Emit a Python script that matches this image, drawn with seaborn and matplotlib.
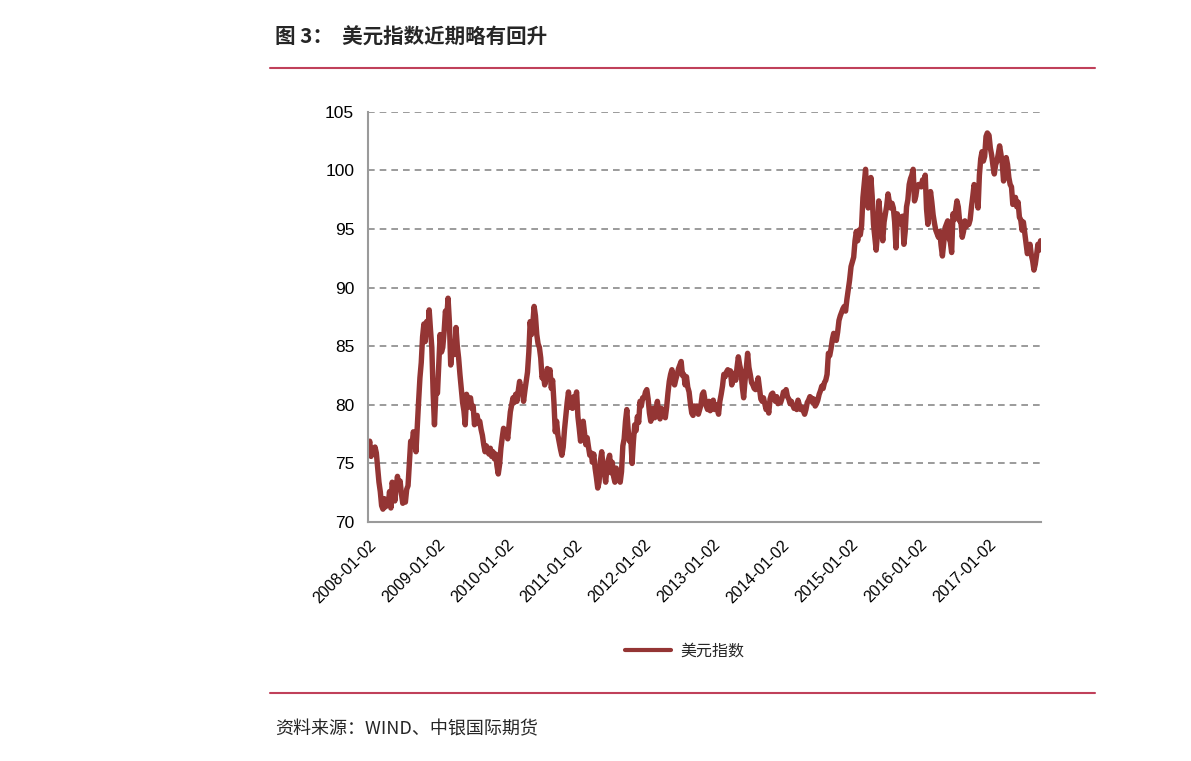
import pandas as pd
import seaborn as sns
import matplotlib.pyplot as plt
import matplotlib.dates as mdates
from matplotlib.lines import Line2D

# weekly readings of the US dollar index, one list per calendar year
dxy_2008 = [76.3, 76.9, 75.6, 76.2, 75.8, 76.4, 75.9, 74.6, 73.4, 72.6,
            71.4, 71.1, 72.0, 71.3, 71.8, 71.5, 72.6, 71.2, 73.4, 72.8,
            71.8, 72.9, 73.9, 72.8, 73.5, 72.4, 71.6, 72.2, 71.7, 72.8,
            73.1, 75.0, 76.9, 76.5, 77.7, 77.2, 76.0, 78.2, 80.3, 82.3,
            83.6, 85.8, 86.9, 85.4, 87.1, 86.2, 88.1, 86.4, 84.9, 81.0,
            78.3, 80.9]
dxy_2009 = [81.0, 83.5, 86.0, 84.5, 84.9, 86.2, 88.0, 87.4, 89.1, 87.1,
            83.4, 84.6, 85.4, 84.3, 86.6, 85.0, 84.0, 82.6, 81.4, 80.2,
            79.5, 78.3, 80.9, 79.8, 80.4, 80.6, 79.7, 79.9, 78.3, 79.0,
            79.1, 78.4, 78.6, 77.9, 77.4, 76.6, 76.0, 76.5, 76.0, 75.8,
            76.3, 75.6, 76.0, 75.4, 75.8, 74.8, 74.1, 74.9, 76.3, 77.2,
            78.0, 77.6]
dxy_2010 = [77.8, 77.1, 78.3, 79.4, 80.0, 80.6, 80.2, 80.9, 80.3, 81.2,
            82.0, 81.3, 81.5, 80.3, 81.2, 82.0, 82.8, 84.5, 87.1, 86.0,
            86.9, 88.4, 87.6, 86.0, 85.2, 84.9, 84.0, 82.3, 82.6, 81.7,
            82.2, 83.1, 82.6, 83.0, 81.4, 82.1, 80.2, 77.7, 78.6, 77.4,
            76.8, 76.2, 75.7, 76.4, 77.9, 79.1, 80.2, 81.1, 79.8, 80.3,
            79.7, 80.7]
dxy_2011 = [80.5, 81.1, 79.0, 78.0, 76.9, 77.8, 78.6, 77.6, 76.6, 77.2,
            76.4, 75.7, 75.9, 75.1, 75.8, 74.6, 73.8, 72.9, 73.4, 75.2,
            76.0, 74.8, 74.2, 73.4, 74.7, 75.3, 75.7, 74.2, 75.1, 73.9,
            73.4, 74.6, 73.8, 74.0, 73.4, 74.3, 76.5, 77.1, 78.6, 79.6,
            77.9, 76.9, 77.2, 75.0, 76.9, 78.3, 77.8, 79.0, 78.5, 80.3,
            79.9, 80.6]
dxy_2012 = [80.6, 81.1, 81.3, 80.5, 79.3, 78.6, 79.2, 79.7, 78.9, 79.6,
            80.3, 79.3, 78.8, 79.7, 79.6, 79.2, 78.9, 79.8, 81.0, 82.0,
            82.6, 83.0, 82.0, 81.7, 82.2, 82.6, 83.1, 83.4, 83.7, 82.5,
            82.6, 81.7, 82.4, 81.5, 81.1, 80.1, 79.3, 79.1, 79.9, 79.6,
            79.9, 79.2, 79.6, 80.0, 80.9, 81.1, 80.4, 79.9, 79.6, 80.3,
            79.5, 79.8]
dxy_2013 = [80.4, 79.6, 80.0, 79.7, 79.2, 80.3, 80.9, 81.6, 82.6, 82.4,
            82.8, 83.0, 82.6, 82.9, 81.7, 82.4, 82.7, 82.1, 83.2, 84.1,
            83.4, 82.9, 81.5, 80.6, 82.0, 83.1, 84.4, 83.2, 82.6, 81.9,
            81.7, 81.4, 81.3, 81.8, 82.3, 81.4, 80.5, 80.3, 80.6, 80.1,
            79.6, 79.9, 79.3, 80.5, 80.9, 81.0, 80.6, 80.3, 80.7, 80.1,
            80.3, 80.2]
dxy_2014 = [80.6, 81.1, 80.9, 81.3, 80.7, 80.5, 80.1, 80.3, 80.0, 79.7,
            79.9, 79.6, 80.4, 80.0, 79.6, 79.8, 79.5, 79.2, 79.6, 80.2,
            80.4, 80.7, 80.6, 80.2, 80.5, 79.9, 80.1, 80.4, 80.9, 81.2,
            81.6, 81.4, 81.9, 82.1, 82.6, 84.4, 84.2, 84.8, 85.6, 86.1,
            85.8, 85.5, 86.2, 87.2, 87.6, 87.9, 88.2, 88.4, 88.0, 89.0,
            89.8, 90.6]
dxy_2015 = [91.8, 92.2, 92.6, 94.0, 94.8, 94.0, 94.9, 94.5, 95.3, 97.7,
            98.9, 100.1, 97.6, 96.8, 97.3, 99.4, 97.8, 95.4, 94.3, 93.2,
            94.6, 97.4, 96.2, 95.2, 94.0, 95.6, 96.3, 97.0, 98.0, 97.3,
            96.8, 97.2, 96.8, 95.6, 93.4, 96.3, 95.8, 96.0, 95.4, 96.1,
            93.7, 94.8, 96.9, 97.5, 98.8, 99.3, 99.6, 100.1, 97.4, 97.8,
            98.6, 98.8]
dxy_2016 = [98.8, 98.6, 99.2, 98.9, 99.6, 96.7, 95.4, 96.8, 98.2, 97.3,
            96.2, 95.5, 94.9, 94.6, 94.3, 94.8, 93.6, 92.7, 93.8, 95.1,
            95.4, 95.7, 94.2, 93.9, 93.0, 96.3, 95.8, 96.6, 97.4, 96.9,
            95.7, 95.6, 94.3, 94.8, 95.7, 95.2, 95.5, 95.4, 95.8, 96.9,
            97.8, 98.8, 98.4, 98.0, 96.8, 99.6, 101.0, 101.6, 100.8, 101.2,
            102.9, 103.2]
dxy_2017 = [103.0, 101.9, 101.3, 100.4, 99.7, 100.5, 100.8, 101.4, 102.1, 101.4,
            100.6, 99.1, 100.2, 101.1, 100.5, 99.4, 98.8, 98.6, 97.1, 97.4,
            97.7, 96.9, 97.3, 96.0, 95.8, 94.9, 95.6, 94.7, 93.8, 92.9,
            93.2, 93.7, 92.8, 92.3, 91.5, 92.0, 92.8, 93.7, 93.2, 94.0]

years = list(range(2008, 2018))
yearly = [dxy_2008, dxy_2009, dxy_2010, dxy_2011, dxy_2012,
          dxy_2013, dxy_2014, dxy_2015, dxy_2016, dxy_2017]
tick_dates = [f"{y}-01-02" for y in years]
y_ticks = [70, 75, 80, 85, 90, 95, 100, 105]

series_name = "美元指数"
title = "图 3：  美元指数近期略有回升"
source = "资料来源：WIND、中银国际期货"

# build the frame, each year starting on its first week
frames = []
for y, vals in zip(years, yearly):
    dates = pd.date_range(f"{y}-01-04", periods=len(vals), freq="7D")
    frames.append(pd.DataFrame({"date": dates, "value": vals}))
df = pd.concat(frames, ignore_index=True)

sns.set_style("white")
plt.rcParams["font.family"] = ["Liberation Sans", "Noto Sans CJK SC", "DejaVu Sans"]

line_color = "#943534"
rule_color = "#C0405A"
axis_color = "#9a9a9a"

fig = plt.figure(figsize=(11.91, 7.61), dpi=100)
ax = fig.add_axes([0.309, 0.314, 0.565, 0.539])

sns.lineplot(data=df, x="date", y="value", ax=ax, color=line_color,
             linewidth=3.9, legend=False)

ax.set_xlim(pd.Timestamp("2008-01-02"), pd.Timestamp("2017-10-06"))
ax.set_ylim(70, 105)
ax.set_yticks(y_ticks)
ax.set_xticks(pd.to_datetime(tick_dates))
ax.xaxis.set_major_formatter(mdates.DateFormatter("%Y-%m-%d"))
ax.set_xlabel("")
ax.set_ylabel("")

for lbl in ax.get_xticklabels():
    lbl.set_rotation(45)
    lbl.set_ha("right")
    lbl.set_rotation_mode("anchor")

ax.tick_params(axis="y", direction="inout", length=8, width=1.2, color=axis_color,
               labelsize=12.5, pad=6, labelcolor="black")
ax.tick_params(axis="x", direction="out", length=5, width=1.2, color=axis_color,
               labelsize=11.5, pad=6, labelcolor="black")

ax.grid(axis="y", color="#8a8a8a", linestyle=(0, (4, 3)), linewidth=1.2)
ax.grid(axis="x", visible=False)
for side in ["top", "right"]:
    ax.spines[side].set_visible(False)
for side in ["left", "bottom"]:
    ax.spines[side].set_color(axis_color)
    ax.spines[side].set_linewidth(1.5)

# header / footer decoration
fig.text(0.231, 0.951, title, fontsize=14.8, fontweight="bold", va="center", ha="left",
         family=["Noto Sans CJK SC", "DejaVu Sans"])
fig.add_artist(Line2D([0.227, 0.919], [0.911, 0.911], color=rule_color, linewidth=1.5))
fig.add_artist(Line2D([0.227, 0.919], [0.0894, 0.0894], color=rule_color, linewidth=1.5))
fig.text(0.231, 0.042, source, fontsize=13, va="center", ha="left",
         family=["Noto Sans CJK SC", "DejaVu Sans"])

handle = Line2D([], [], color=line_color, linewidth=3)
fig.legend([handle], [series_name], loc="center", bbox_to_anchor=(0.575, 0.145),
           frameon=False, handlelength=2.9, handletextpad=0.6,
           prop={"family": ["Noto Sans CJK SC"], "size": 11.5})

fig.savefig("out.png", dpi=100)
